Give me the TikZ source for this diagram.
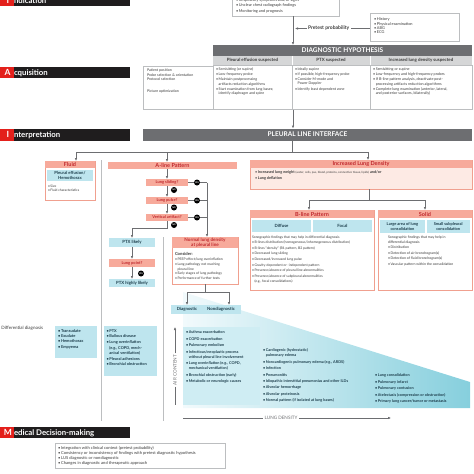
\documentclass[tikz,border=0pt]{standalone}
\usepackage{fontspec}
\setmainfont{Lato}
\usetikzlibrary{arrows.meta,calc,shadows}

\definecolor{barblack}{HTML}{1F1D1E}
\definecolor{ired}{HTML}{E3201B}
\definecolor{dgray}{HTML}{6D6E71}
\definecolor{hgray}{HTML}{D5D6D7}
\definecolor{lgray}{HTML}{BCBEC0}
\definecolor{salmon}{HTML}{F7AA9B}
\definecolor{salmonedge}{HTML}{F0A08F}
\definecolor{psalmon}{HTML}{FDEAE4}
\definecolor{dred}{HTML}{C0282D}
\definecolor{lblue}{HTML}{BEE5EE}
\definecolor{lbluetwo}{HTML}{CFEDF3}
\definecolor{dblue}{HTML}{1D3E4C}
\definecolor{tgray}{HTML}{3A3A3A}
\definecolor{gradL}{HTML}{F2FAFC}
\definecolor{gradR}{HTML}{86CFDD}

\newcommand\fsz[2]{\fontsize{#1}{#2}\selectfont}
\newcommand\bul{\makebox[0.75em][l]{•}}
\newcommand\bulind{\hspace*{0.75em}}

\begin{document}
\begin{tikzpicture}[x=1pt,y=-1pt,
  every node/.style={inner sep=0pt,outer sep=0pt},
  conn/.style={draw=dgray,line width=0.6pt},
  arr/.style={conn,-{Latex[length=3pt,width=2.6pt]}},
  blackbar/.style={fill=barblack,minimum width=130pt,minimum height=11pt,anchor=north west},
  redblock/.style={fill=ired,minimum width=13.5pt,minimum height=11pt,anchor=north west},
  bartext/.style={text=white,font=\fsz{7.8}{8}\bfseries,anchor=base west},
  barletter/.style={text=white,font=\fsz{8.5}{9}\bfseries,anchor=base},
  graybar/.style={fill=dgray,anchor=north west},
  graytext/.style={text=white,font=\fsz{6.5}{7}\bfseries},
  shadowbox/.style={draw=lgray,line width=0.4pt,fill=white,drop shadow={shadow xshift=0.6pt,shadow yshift=-0.6pt,opacity=0.3,fill=black!50}},
  sbox/.style={draw=salmonedge,line width=0.5pt,fill=white,anchor=north west},
  shdr/.style={fill=salmon,text=dred,font=\fsz{5.5}{6}\bfseries,anchor=north},
  qbox/.style={fill=salmon,text=dred,font=\fsz{4}{4.5}\bfseries,minimum width=42pt,minimum height=7pt},
  bbox/.style={fill=lblue,text=dblue,font=\fsz{4.3}{4.8}\bfseries},
  yn/.style={circle,fill=black,text=white,font=\fsz{2.2}{2.4}\bfseries,minimum size=6pt},
  lst/.style={align=left,anchor=north west},
  sep/.style={draw=lgray,line width=0.5pt},
  axisline/.style={draw=dgray,line width=0.5pt}
]
\useasboundingbox (0,0) rectangle (474,474);
\clip (0,0) rectangle (474,474);

% ---------------- Indication ----------------
\node[blackbar] (indbar) at (0,-5) {};
\node[redblock] (indred) at (0,-5) {};
\node[barletter] (indL) at (8,3.5) {I};
\node[bartext] (indT) at (14,3.5) {ndication};

\node[shadowbox,minimum width=107pt,minimum height=21pt,anchor=north west] (indbox) at (232,-5) {};
\node[lst,font=\fsz{3.9}{5.5},text=tgray] (indtxt) at (236,-1.5)
  {\bul Respiratory symptoms and/or signs\\ \bul Unclear chest radiograph findings\\ \bul Monitoring and prognosis};

\node[shadowbox,minimum width=89pt,minimum height=28pt,anchor=north west] (hist) at (370,13) {};
\node[lst,font=\fsz{3.9}{4.2},text=tgray] (histtxt) at (374,18)
  {\bul History\\ \bul Physical examination\\ \bul ABG\\ \bul ECG};

\node[font=\fsz{5}{6}\bfseries,text=tgray,anchor=west] (pp) at (308,28.5) {Pretest probability};
\coordinate (ppend) at (295,28.5);
\draw[arr] ([xshift=-1.5pt]pp.west) -- (ppend);
\draw[conn] ([xshift=1.5pt]pp.east) -- (hist.west |- pp);

% ---------------- Diagnostic hypothesis ----------------
\node[graybar,minimum width=259pt,minimum height=11pt] (diag) at (213,45) {};
\node[graytext] (diagT) at (diag.center) {DIAGNOSTIC HYPOTHESIS};
\coordinate (a1) at (293,16);
\draw[arr] (a1) -- (diag.north -| a1);

% ---------------- Acquisition ----------------
\node[blackbar] (acqbar) at (0,67) {};
\node[redblock] (acqred) at (0,67) {};
\node[barletter] (acqL) at (7.5,75) {A};
\node[bartext] (acqT) at (14,75) {cquisition};

% table
\node[fill=hgray,minimum width=79pt,minimum height=9pt,anchor=north west] (h1) at (213,56) {};
\node[fill=hgray,minimum width=78pt,minimum height=9pt,anchor=north west] (h2) at (292,56) {};
\node[fill=hgray,minimum width=102pt,minimum height=9pt,anchor=north west] (h3) at (370,56) {};
\node[font=\fsz{4.4}{5}\bfseries,text=tgray] (h1t) at (h1.center) {Pleural effusion suspected};
\node[font=\fsz{4.4}{5}\bfseries,text=tgray] (h2t) at (h2.center) {PTX suspected};
\node[font=\fsz{4.4}{5}\bfseries,text=tgray] (h3t) at (h3.center) {Increased lung density suspected};
\node[shadowbox,minimum width=259pt,minimum height=44pt,anchor=north west] (tbody) at (213,65) {};
\node[shadowbox,minimum width=70pt,minimum height=43pt,anchor=north west] (tleft) at (143,66) {};
\draw[sep] (292,56) -- (292,109);
\draw[sep] (370,56) -- (370,109);
\draw[draw=white,line width=0.5pt] (292,56) -- (292,65) (370,56) -- (370,65);

\node[lst,font=\fsz{3.6}{4.6},text=tgray] (tl) at (147,69)
  {Patient position\\Probe selection \& orientation\\Protocol selection\\[7pt]Picture optimization};
\node[lst,font=\fsz{3.6}{4.4},text=tgray] (t1) at (216,67.5)
  {\bul Semisitting (or supine)\\[0.8pt] \bul Low-frequency probe\\[0.8pt] \bul Maintain postprocessing\\ \bulind artifacts reduction algorithms\\[0.8pt] \bul Start examination from lung bases;\\ \bulind identify diaphragm and spine};
\node[lst,font=\fsz{3.6}{4.4},text=tgray] (t2) at (295,67.5)
  {\bul Ideally supine\\[0.8pt] \bul If possible, high-frequency probe\\[0.8pt] \bul Consider M-mode and\\ \bulind Power Doppler\\[0.8pt] \bul Identify least dependent zone};
\node[lst,font=\fsz{3.7}{4.4},text=tgray] (t3) at (373,67.5)
  {\bul Semisitting or supine\\[0.8pt] \bul Low-frequency and high-frequency probes\\[0.8pt] \bul If B-line pattern analysis, deactivate post-\\ \bulind processing artifacts reduction algorithms\\[0.8pt] \bul Complete lung examination (anterior, lateral,\\ \bulind and posterior surfaces, bilaterally)};

% ---------------- Interpretation ----------------
\node[blackbar,minimum height=12pt] (intbar) at (0,128.5) {};
\node[redblock,minimum height=12pt] (intred) at (0,128.5) {};
\node[barletter] (intL) at (8,137.5) {I};
\node[bartext] (intT) at (14,137.5) {nterpretation};

\node[graybar,minimum width=329pt,minimum height=12pt] (pl) at (143,128.5) {};
\node[graytext] (plT) at (pl.center) {PLEURAL LINE INTERFACE};
\coordinate (a2) at (293,109.5);
\draw[arr] (a2) -- (pl.north -| a2);

\coordinate (b0) at (292,152);
\coordinate (bL) at (76,152);
\coordinate (bM) at (167,152);
\coordinate (bR) at (368,152);
\draw[conn] (pl.south -| b0) -- (b0);
\draw[conn] (bL) -- (bR);

% separators
\draw[sep] (101,160) -- (101,421);
\draw[sep] (163,237) -- (163,421);

% Fluid
\node[sbox,minimum width=50pt,minimum height=39pt] (fluid) at (45,161) {};
\node[shdr,minimum width=50pt,minimum height=7pt] (fluidH) at (fluid.north) {Fluid};
\node[bbox,font=\fsz{4.2}{4.6}\bfseries,align=center,minimum width=46pt,minimum height=11pt,anchor=north] (pe) at (70,170) {Pleural effusion/\\Hemothorax};
\node[lst,font=\fsz{3.3}{4.3},text=tgray] (fluidL) at (48,185) {\bul Size\\ \bul Fluid characteristics};
\draw[arr] (bL) -- (fluid.north -| bL);

% A-line
\node[fill=salmon,text=dred,font=\fsz{5.5}{6}\bfseries,minimum width=129pt,minimum height=7pt,anchor=north west] (aline) at (108,162) {A-line Pattern};
\draw[arr] (bM) -- (aline.north -| bM);
\node[qbox] (ls) at (167,182.5) {Lung sliding?};
\node[qbox] (lp) at (167,200.5) {Lung pulse?};
\node[qbox] (va) at (167,217.5) {Vertical artifact?};
\draw[arr] (aline.south -| ls) -- (ls);
\node[yn] (y1) at (197,182.5) {YES};
\node[yn] (y2) at (197,200.5) {YES};
\node[yn] (y3) at (197,217.5) {YES};
\node[yn] (n1) at (174,190) {NO};
\node[yn] (n2) at (174,207.5) {NO};
\node[yn] (n3) at (174,225) {NO};
\coordinate (r1) at (207,182.5);
\coordinate (r2) at (207,200.5);
\coordinate (r3) at (207,217.5);
\draw[conn] (ls) -- (y1);
\draw[conn] (lp) -- (y2);
\draw[conn] (va) -- (y3);
\draw[conn] (y1) -- (r1);
\draw[conn] (y2) -- (r2);
\draw[conn] (y3) -- (r3);
\draw[arr] (ls) -- (lp);
\draw[arr] (lp) -- (va);

\node[bbox,minimum width=46pt,minimum height=9pt,anchor=north west] (ptxl) at (109,238) {PTX likely};
\node[qbox,minimum width=46pt,minimum height=8pt,anchor=north west] (lpt) at (109,259) {Lung point?};
\node[bbox,minimum width=46pt,minimum height=8pt,anchor=north west] (ptxh) at (109,279) {PTX highly likely};
\node[yn] (y4) at (141,273.5) {YES};
\coordinate (k1) at (167,228);
\coordinate (k2) at (132,228);
\draw[conn] (va) -- (k1) -- (k2);
\draw[arr] (k2) -- (ptxl);
\draw[arr] (ptxl) -- (lpt);
\draw[arr] (lpt) -- (ptxh);

% gradient wedge
\shade[left color=gradL,right color=gradR] (183,292) -- (470,382) -- (470,408) -- (183,408) -- cycle;

% Normal lung density
\node[sbox,minimum width=66pt,minimum height=47pt] (norm) at (172,237) {};
\node[shdr,font=\fsz{4.6}{5}\bfseries,align=center,minimum width=66pt,minimum height=11pt] (normH) at (norm.north) {Normal lung density\\at pleural line};
\node[lst,font=\fsz{3.4}{4.8},text=tgray] (normL) at (175,252.5)
  {{\fsz{4.2}{5}\bfseries Consider:}\\ \bul PEEP effect/lung overinflation\\ \bul Lung pathology not reaching\\ \bulind pleural line\\ \bul Early stages of lung pathology\\ \bul Performance of further tests};
\draw[arr] (r1) -- (norm.north -| r1);

\node[fill=lblue,minimum width=70pt,minimum height=9pt,anchor=north west] (dnbg) at (171,305) {};
\node[text=dblue,font=\fsz{4.3}{5}\bfseries] (diagn) at (187,309.5) {Diagnostic};
\node[text=dblue,font=\fsz{4.3}{5}\bfseries] (ndiagn) at (221,309.5) {Nondiagnostic};
\coordinate (d0) at (205,292);
\coordinate (dL) at (187,292);
\coordinate (dR) at (229,292);
\draw[conn] (norm.south -| d0) -- (d0);
\draw[conn] (dL) -- (dR);
\draw[arr] (dL) -- (dnbg.north -| dL);
\draw[arr] (dR) -- (dnbg.north -| dR);

% Differential diagnosis
\node[font=\fsz{4.5}{5},text=tgray,anchor=west] (dd) at (1.5,328.5) {Differential diagnosis};
\node[fill=lblue,minimum width=42pt,minimum height=32pt,anchor=north west] (fdl) at (55,326) {};
\node[lst,font=\fsz{4}{5.2}\bfseries,text=dblue] (fdlT) at (58,329.5)
  {\bul Transudate\\ \bul Exudate\\ \bul Hemothorax\\ \bul Empyema};
\node[fill=lblue,minimum width=53pt,minimum height=50pt,anchor=north west] (pdl) at (104,326) {};
\node[lst,font=\fsz{3.9}{5.6}\bfseries,text=dblue] (pdlT) at (106.5,329.5)
  {\bul PTX\\ \bul Bullous disease\\ \bul Lung overinflation\\ \bulind (e.g., COPD, mech-\\ \bulind anical ventilation)\\ \bul Pleural adhesions\\ \bul Bronchial obstruction};

\node[fill=lbluetwo,minimum width=77pt,minimum height=78pt,anchor=north west] (gl) at (183,327) {};
\node[lst,font=\fsz{3.8}{5}\bfseries,text=dblue] (glT) at (186,331)
  {\bul Asthma exacerbation\\[1.5pt] \bul COPD exacerbation\\[1.5pt] \bul Pulmonary embolism\\[1.5pt] \bul Infectious/neoplastic process\\ \bulind without pleural line involvement\\[1.5pt] \bul Lung overinflation (e.g., COPD,\\ \bulind mechanical ventilation)\\[1.5pt] \bul Bronchial obstruction (early)\\[1.5pt] \bul Metabolic or neurologic causes};
\node[lst,font=\fsz{3.8}{5}\bfseries,text=dblue] (gm) at (263,349)
  {\bul Cardiogenic (hydrostatic)\\ \bulind pulmonary edema\\[1.4pt] \bul Noncardiogenic pulmonary edema (e.g., ARDS)\\[1.4pt] \bul Infection\\[1.4pt] \bul Pneumonitis\\[1.4pt] \bul Idiopathic interstitial pneumonias and other ILDs\\[1.4pt] \bul Alveolar hemorrhage\\[1.4pt] \bul Alveolar proteinosis\\[1.4pt] \bul Normal pattern (if isolated at lung bases)};
\node[lst,font=\fsz{3.8}{5}\bfseries,text=dblue] (gr) at (375,374)
  {\bul Lung consolidation\\[1.4pt] \bul Pulmonary infarct\\[1.4pt] \bul Pulmonary contusion\\[1.4pt] \bul Atelectasis (compression or obstruction)\\[1.4pt] \bul Primary lung cancer/tumor or metastasis};

% axes
\node[rotate=90,font=\fsz{4.6}{5},text=dgray,inner sep=1.5pt] (ac) at (175,370) {AIR CONTENT};
\coordinate (acT) at (175,327);
\coordinate (acB) at (175,405);
\draw[axisline,-{Latex[length=3pt,width=2.6pt]}] (ac.east) -- (acT);
\draw[axisline] (ac.west) -- (acB);
\node[font=\fsz{4.6}{5},text=dgray,inner sep=1.5pt] (ld) at (281,418) {LUNG DENSITY};
\coordinate (ldL) at (183,418);
\coordinate (ldR) at (391,418);
\draw[axisline] (ldL) -- (ld.west);
\draw[axisline,-{Latex[length=3pt,width=2.6pt]}] (ld.east) -- (ldR);

% Increased lung density
\node[sbox,fill=psalmon,minimum width=222pt,minimum height=29pt] (ild) at (250,160) {};
\node[shdr,minimum width=222pt,minimum height=8pt] (ildH) at (ild.north) {Increased Lung Density};
\node[lst,font=\fsz{3.8}{5.5},text=tgray] (ildT) at (255,171)
  {\bul\textbf{Increased lung weight} {\fsz{2.9}{3}(water, cells, pus, blood, proteins, connective tissue, lipids)} \textbf{and/or}\\ \bul\textbf{Lung deflation}};
\draw[arr] (bR) -- (ild.north -| bR);

\coordinate (e0) at (369,200);
\coordinate (eL) at (309,200);
\coordinate (eR) at (425,200);
\draw[conn] (ild.south -| e0) -- (e0);
\draw[conn] (eL) -- (eR);

% B-line
\node[sbox,minimum width=124pt,minimum height=80pt] (bl) at (250,210) {};
\node[shdr,minimum width=124pt,minimum height=8pt] (blH) at (bl.north) {B-line Pattern};
\node[bbox,minimum width=59pt,minimum height=12pt,anchor=north west] (dif) at (252,220) {Diffuse};
\node[bbox,minimum width=59pt,minimum height=12pt,anchor=north west] (foc) at (313,220) {Focal};
\node[lst,font=\fsz{3.4}{5.6},text=tgray] (blT) at (252,235.5)
  {Sonographic findings that may help in differential diagnosis\\ \bul B-lines distribution (homogeneous/inhomogeneous distribution)\\ \bul B-lines ``density'' (B1 pattern, B2 pattern)\\ \bul Decreased lung sliding\\ \bul Decreased/increased lung pulse\\ \bul Gravity-dependent or -independent pattern\\ \bul Presence/absence of pleural line abnormalities\\ \bul Presence/absence of subpleural abnormalities\\ \bulind (e.g., focal consolidations)};
\draw[arr] (eL) -- (bl.north -| eL);

% Solid
\node[sbox,minimum width=94pt,minimum height=80pt] (sol) at (378,210) {};
\node[shdr,minimum width=94pt,minimum height=8pt] (solH) at (sol.north) {Solid};
\node[bbox,font=\fsz{4}{4.4}\bfseries,align=center,minimum width=45pt,minimum height=13pt,anchor=north west] (lac) at (380,220) {Large area of lung\\consolidation};
\node[bbox,font=\fsz{4}{4.4}\bfseries,align=center,minimum width=43.5pt,minimum height=13pt,anchor=north west] (ssc) at (426.5,220) {Small subpleural\\consolidation};
\node[lst,font=\fsz{3.5}{5.4},text=tgray] (solT) at (388,235.5)
  {Sonographic findings that may help in\\differential diagnosis\\ \bul Distribution\\ \bul Detection of air bronchogram(s)\\ \bul Detection of fluid bronchogram(s)\\ \bul Vascular pattern within the consolidation};
\draw[arr] (eR) -- (sol.north -| eR);

% ---------------- Medical decision-making ----------------
\node[blackbar] (mdbar) at (0,427) {};
\node[redblock] (mdred) at (0,427) {};
\node[barletter] (mdL) at (8,435) {M};
\node[bartext] (mdT) at (14,435) {edical Decision-making};
\node[shadowbox,minimum width=170pt,minimum height=25pt,anchor=north west] (mdm) at (55,443) {};
\node[lst,font=\fsz{4.1}{4.9},text=tgray] (mdmT) at (58,446.5)
  {\bul Integration with clinical context (pretest probability)\\ \bul Consistency or inconsistency of findings with pretest diagnostic hypothesis\\ \bul LUS diagnostic or nondiagnostic\\ \bul Changes in diagnostic and therapeutic approach};
\end{tikzpicture}
\end{document}
